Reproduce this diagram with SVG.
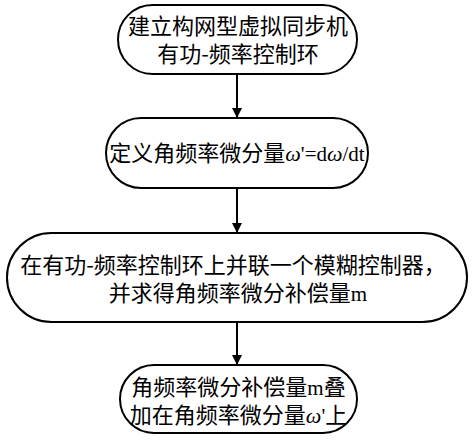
<svg xmlns="http://www.w3.org/2000/svg" width="474" height="441" viewBox="0 0 474 441">
<defs>
<style>
.box{fill:#fff;stroke:#000;stroke-width:2}
.t{font-family:"Noto Sans CJK SC","Noto Sans",sans-serif;font-size:22px;fill:#000;text-anchor:middle}
.s{font-family:"Liberation Serif",serif;font-size:21px}
.i{font-family:"Liberation Serif",serif;font-style:italic;font-size:22px}
.c{stroke:#000;stroke-width:2;fill:none}
</style>
<marker id="ah" markerWidth="10" markerHeight="12" refX="9" refY="5" orient="auto" markerUnits="userSpaceOnUse" viewBox="0 0 10 10">
<path d="M0,0 L10,5 L0,10 Z" fill="#000"/>
</marker>
</defs>
<rect width="474" height="441" fill="#fff"/>
<g id="connectors">
<line class="c" x1="237" y1="74" x2="237" y2="117" marker-end="url(#ah)"/>
<line class="c" x1="237" y1="188" x2="237" y2="232" marker-end="url(#ah)"/>
<line class="c" x1="237" y1="322" x2="237" y2="364" marker-end="url(#ah)"/>
</g>
<g id="n1">
<rect class="box" x="118" y="5" width="239" height="69" rx="34.5"/>
<text class="t"><tspan x="238" y="34">建立构网型虚拟同步机</tspan><tspan x="238" y="62">有功-频率控制环</tspan></text>
</g>
<g id="n2">
<rect class="box" x="106" y="118" width="262" height="70" rx="35"/>
<text class="t" x="237" y="161">定义角频率微分量<tspan class="i">ω</tspan><tspan class="s">'=d</tspan><tspan class="i">ω</tspan><tspan class="s">/dt</tspan></text>
</g>
<g id="n3">
<rect class="box" x="7" y="233" width="460" height="89" rx="44.5"/>
<text class="t"><tspan x="233" y="273">在有功-频率控制环上并联一个模糊控制器，</tspan><tspan x="238" y="301">并求得角频率微分补偿量<tspan class="s">m</tspan></tspan></text>
</g>
<g id="n4">
<rect class="box" x="120" y="365" width="237" height="68" rx="34"/>
<text class="t"><tspan x="238.5" y="395">角频率微分补偿量<tspan class="s">m</tspan>叠</tspan><tspan x="238.5" y="423">加在角频率微分量<tspan class="i">ω</tspan><tspan class="s">'</tspan>上</tspan></text>
</g>
</svg>
